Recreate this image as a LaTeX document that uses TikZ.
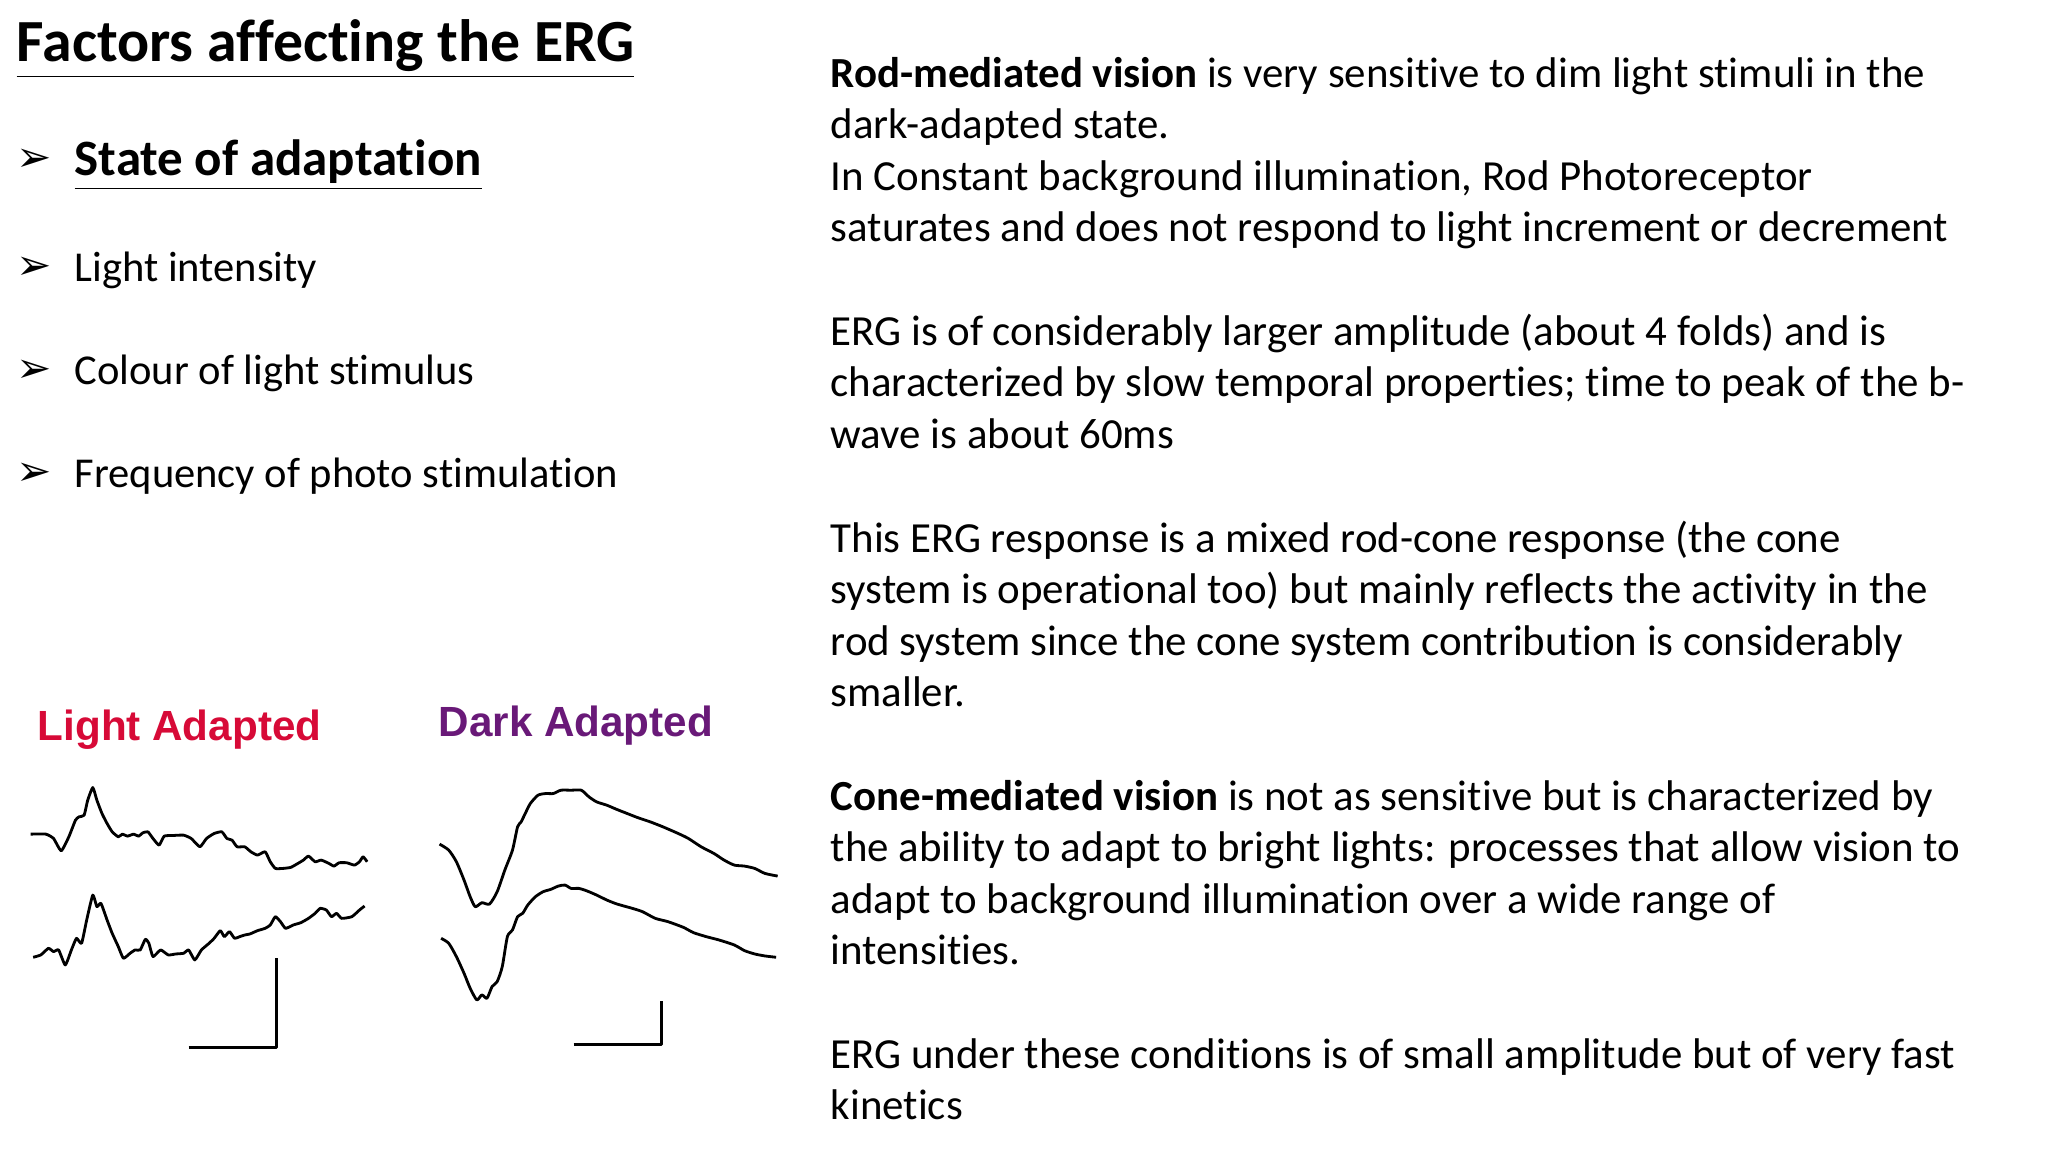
\documentclass[tikz,border=0pt]{standalone}
\usepackage{fontspec}
\setmainfont{Carlito}[Ligatures=NoCommon]
\newfontfamily\dejavu{DejaVu Sans}
\newfontfamily\arialf{Liberation Sans}
\definecolor{lared}{RGB}{215,10,55}
\definecolor{dapurple}{RGB}{105,25,120}
\begin{document}
\begin{tikzpicture}[x=0.01cm,y=-0.01cm,
  body/.style={anchor=mid west,inner sep=0pt,font=\fontsize{12.2pt}{14pt}\selectfont},
  lbody/.style={anchor=mid west,inner sep=0pt,font=\fontsize{12.1pt}{14pt}\selectfont},
  bul/.style={anchor=mid west,inner sep=0pt,font=\dejavu\bfseries\fontsize{12pt}{14pt}\selectfont},
  lbl/.style={anchor=mid west,inner sep=0pt,font=\arialf\bfseries\fontsize{12pt}{14pt}\selectfont},
  trace/.style={line width=0.8pt,line join=round}]
\useasboundingbox (0,0) rectangle (2048,1152);
\fill[white] (0,0) rectangle (2048,1152);
% title
\node[anchor=mid west,inner sep=0pt,font=\bfseries\fontsize{17pt}{20pt}\selectfont] (title) at (16,53) {\underline{Factors affecting the ERG}};
\node[bul] (b1) at (16,163) {➢};
\node[anchor=mid west,inner sep=0pt,font=\bfseries\fontsize{14.5pt}{17pt}\selectfont] (t1) at (74,167) {\underline{State of adaptation}};
\node[bul] (b2) at (16,271) {➢};
\node[lbody] (t2) at (74,273) {Light intensity};
\node[bul] (b3) at (16,374) {➢};
\node[lbody] (t3) at (74,376) {Colour of light stimulus};
\node[bul] (b4) at (16,477) {➢};
\node[lbody] (t4) at (74,479) {Frequency of photo stimulation};
% right text
\foreach \y/\t [count=\i] in {
 79/{\textbf{Rod-mediated vision} is very sensitive to dim light stimuli in the},
 130/{dark-adapted state.},
 182/{In Constant background illumination, Rod Photoreceptor},
 233/{saturates and does not respond to light increment or decrement},
 337/{ERG is of considerably larger amplitude (about 4 folds) and is},
 388/{characterized by slow temporal properties; time to peak of the b-},
 440/{wave is about 60ms},
 544/{This ERG response is a mixed rod-cone response (the cone},
 595/{system is operational too) but mainly reflects the activity in the},
 647/{rod system since the cone system contribution is considerably},
 698/{smaller.},
 802/{\textbf{Cone-mediated vision} is not as sensitive but is characterized by},
 853/{the ability to adapt to bright lights: processes that allow vision to},
 905/{adapt to background illumination over a wide range of},
 956/{intensities.},
 1060/{ERG under these conditions is of small amplitude but of very fast},
 1111/{kinetics}}
 \node[body] (r\i) at (830,\y) {\t};
% labels
\node[lbl,text=lared] (la) at (37,732) {Light Adapted};
\node[lbl,text=dapurple] (da) at (438,728) {Dark Adapted};
% traces
\begin{scope}[x=0.0051cm,y=-0.003333cm,yshift=-6.8cm]
\draw[trace] plot[smooth,tension=0.3] coordinates {(60,462)(90,462)(105,475)(120,512)(135,470)(148,420)(155,410)(165,405)(172,360)(182,322)(190,360)(200,400)(210,430)(220,455)(232,470)(240,462)(250,468)(262,462)(272,468)(280,458)(290,455)(300,475)(312,495)(322,468)(340,466)(360,465)(375,475)(392,500)(405,475)(420,460)(435,455)(445,475)(455,480)(465,500)(480,500)(492,515)(505,525)(520,515)(530,545)(540,565)(555,565)(570,562)(582,552)(595,540)(605,528)(618,545)(630,540)(645,550)(655,558)(665,548)(680,548)(695,555)(705,545)(712,530)(720,545)};
\draw[trace] plot[smooth,tension=0.3] coordinates {(65,832)(80,825)(95,805)(105,815)(115,810)(128,855)(140,810)(150,775)(160,790)(170,720)(182,645)(190,680)(198,670)(210,720)(220,760)(232,800)(242,835)(255,820)(265,810)(275,810)(285,778)(292,790)(300,830)(315,810)(330,825)(345,822)(360,820)(370,810)(382,840)(395,810)(410,790)(420,775)(432,752)(440,770)(450,755)(460,775)(470,770)(480,765)(490,762)(505,752)(520,745)(530,735)(540,710)(550,725)(560,745)(575,735)(590,728)(605,715)(618,700)(628,685)(640,690)(650,710)(660,700)(670,715)(690,710)(705,690)(715,678)};
\draw[trace] plot[smooth,tension=0.4] coordinates {(862,492)(880,510)(895,545)(910,600)(922,650)(932,680)(945,668)(960,672)(975,635)(990,570)(1005,510)(1015,440)(1022,425)(1030,400)(1040,370)(1055,345)(1070,340)(1085,340)(1100,330)(1120,330)(1140,330)(1155,350)(1170,365)(1190,375)(1210,388)(1225,397)(1250,412)(1275,425)(1300,440)(1330,460)(1350,475)(1375,500)(1400,520)(1420,540)(1440,555)(1460,558)(1480,565)(1500,580)(1525,588)};
\draw[trace] plot[smooth,tension=0.4] coordinates {(865,775)(880,790)(895,830)(910,880)(922,925)(935,960)(945,945)(955,955)(965,920)(975,905)(985,860)(995,770)(1005,750)(1015,710)(1025,700)(1035,675)(1050,650)(1065,635)(1080,628)(1095,618)(1108,615)(1120,625)(1135,625)(1150,632)(1170,645)(1190,660)(1210,672)(1240,685)(1260,695)(1285,715)(1310,725)(1340,742)(1360,758)(1385,770)(1410,780)(1440,795)(1460,812)(1480,822)(1500,828)(1522,832)};
\draw[trace] (370,1103) -- (543,1103) -- (543,835);
\draw[trace] (1125,1095) -- (1298,1095) -- (1298,962);
\end{scope}
\end{tikzpicture}
\end{document}
